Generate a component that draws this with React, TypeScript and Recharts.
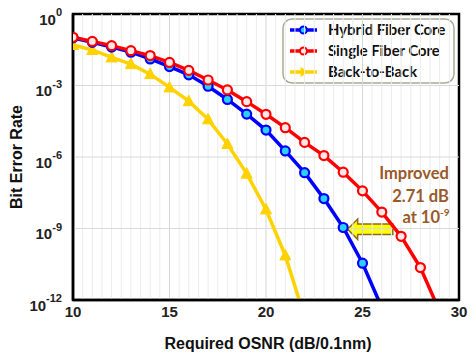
import React from "react";
import {
  LineChart,
  Line,
  XAxis,
  YAxis,
  ReferenceLine,
  ReferenceArea,
  ReferenceDot,
  Customized,
} from "recharts";

// ---------- data ----------
const osnr = [10, 11, 12, 13, 14, 15, 16, 17, 18, 19, 20, 21, 22, 23, 24, 25, 26, 27, 28, 29];
const hybridBER = [1.0e-1, 6.5e-2, 4.1e-2, 2.5e-2, 1.3e-2, 6.2e-3, 2.8e-3, 9.3e-4, 2.6e-4, 6.3e-5, 1.35e-5, 1.8e-6, 2.2e-7, 1.8e-8, 1.1e-9, 3.5e-11, 4.8e-13];
const singleBER = [1.05e-1, 7.1e-2, 4.7e-2, 2.9e-2, 1.8e-2, 9.3e-3, 4.3e-3, 1.7e-3, 6.5e-4, 2.1e-4, 6.2e-5, 1.7e-5, 4.1e-6, 1.15e-6, 2.3e-7, 3.8e-8, 4.9e-9, 4.7e-10, 2.3e-11, 3.3e-13];
const b2bBER = [5.0e-2, 3.1e-2, 1.5e-2, 7.9e-3, 3.0e-3, 8.3e-4, 2.2e-4, 3.8e-5, 3.5e-6, 2.0e-7, 6.3e-9, 7.4e-11, 1.9e-13];

const xTicks = [10, 15, 20, 25, 30];
const yTicks = [1, 1e-3, 1e-6, 1e-9, 1e-12];
const minorX = [10.5, 11, 11.5, 12, 12.5, 13, 13.5, 14, 14.5, 15.5, 16, 16.5, 17, 17.5, 18, 18.5, 19, 19.5, 20.5, 21, 21.5, 22, 22.5, 23, 23.5, 24, 24.5, 25.5, 26, 26.5, 27, 27.5, 28, 28.5, 29, 29.5];
const majorX = [15, 20, 25];
const majorY = [1e-3, 1e-6, 1e-9];

const seriesNames = ["Hybrid Fiber Core", "Single Fiber Core", "Back-to-Back"];
const annotationLines = ["Improved", "2.71 dB", "at 10"];

const toRows = (vals: number[]) => vals.map((v, i) => ({ x: osnr[i], y: v }));
const hybridData = toRows(hybridBER);
const singleData = toRows(singleBER);
const b2bData = toRows(b2bBER);

const BLUE = "#0000ff";
const RED = "#ff0000";
const YELLOW = "#ffd200";
const BROWN = "#985a2a";

const tickFont = "'Liberation Sans', Arial, sans-serif";
const calFont = "Lato, 'Open Sans', sans-serif";

const BlueDot = (p: any) =>
  p.cx == null ? null : (
    <circle key={p.index} cx={p.cx} cy={p.cy} r={4.5} stroke={BLUE} strokeWidth={2.2} fill="#2cd0ff" />
  );
const RedDot = (p: any) =>
  p.cx == null ? null : (
    <circle key={p.index} cx={p.cx} cy={p.cy} r={4.5} stroke={RED} strokeWidth={2.2} fill="#ffe8e8" />
  );
const YellowDot = (p: any) =>
  p.cx == null ? null : (
    <polygon
      key={p.index}
      points={`${p.cx},${p.cy - 6} ${p.cx + 5.5},${p.cy + 4.5} ${p.cx - 5.5},${p.cy + 4.5}`}
      fill={YELLOW}
      stroke={YELLOW}
      strokeWidth={1}
    />
  );

const YTick = (props: any) => {
  const { x, y, payload } = props;
  const e = Math.round(Math.log10(payload.value));
  return (
    <text x={x} y={y + 10.5} textAnchor="end" fontFamily={tickFont} fontWeight="bold" fontSize={15} fill="#222">
      <tspan>10</tspan>
      <tspan dy={-8.5} fontSize={11}>{e === 0 ? "0" : `-${Math.abs(e)}`}</tspan>
    </text>
  );
};

const XTick = (props: any) => {
  const { x, y, payload } = props;
  return (
    <text x={x} y={y + 15} textAnchor="middle" fontFamily={tickFont} fontWeight="bold" fontSize={15} fill="#222">
      {payload.value}
    </text>
  );
};

const ArrowShape = (p: any) => {
  const { x, y, width, height } = p;
  if (x == null) return null;
  const head = 10;
  const cy = y + height / 2;
  const bh = height * 0.26;
  const pts = [
    [x, cy],
    [x + head, y],
    [x + head, cy - bh],
    [x + width, cy - bh],
    [x + width, cy + bh],
    [x + head, cy + bh],
    [x + head, y + height],
  ]
    .map((q) => q.join(","))
    .join(" ");
  return <polygon points={pts} fill="#ffff00" stroke="#8a6a20" strokeWidth={1.5} strokeLinejoin="miter" />;
};

const AnnotationShape = (p: any) => {
  const { cx, cy } = p;
  if (cx == null) return null;
  return (
    <g fontFamily={calFont} fontWeight="bold" fontSize={16.5} fill={BROWN}>
      <text x={cx} y={cy - 50} textAnchor="end">{annotationLines[0]}</text>
      <text x={cx} y={cy - 27} textAnchor="end">{annotationLines[1]}</text>
      <text x={cx - 9} y={cy - 6} textAnchor="end">{annotationLines[2]}</text>
      <text x={cx - 9} y={cy - 13} textAnchor="start" fontSize={10}>-9</text>
    </g>
  );
};

const legendColors = [BLUE, RED, YELLOW];

const LegendBox = () => {
  const bx = 283;
  const by = 19;
  return (
    <g>
      <rect x={bx} y={by} width={171} height={64} rx={9} ry={9} fill="#fff" stroke="#a8ac94" strokeWidth={1.5} />
      {seriesNames.map((n, i) => {
        const cy = 30 + i * 21;
        const mx = 303.5;
        return (
          <g key={n}>
            <line x1={290} y1={cy} x2={317} y2={cy} stroke={legendColors[i]} strokeWidth={3.5} />
            {i === 0 && <circle cx={mx} cy={cy} r={3.5} stroke={BLUE} strokeWidth={2} fill="#2cd0ff" />}
            {i === 1 && <circle cx={mx} cy={cy} r={3.5} stroke={RED} strokeWidth={2} fill="#ffe8e8" />}
            {i === 2 && <polygon points={`${mx + 5},${cy} ${mx - 3},${cy - 5} ${mx - 3},${cy + 5}`} fill={YELLOW} />}
            <text x={328} y={cy + 5} fontFamily={calFont} fontWeight="bold" fontSize={14.8} fill="#111">
              {n}
            </text>
          </g>
        );
      })}
    </g>
  );
};

const Titles = () => (
  <g fontFamily={tickFont} fontWeight="bold" fill="#111">
    <text x={268} y={349} textAnchor="middle" fontSize={16}>
      Required OSNR (dB/0.1nm)
    </text>
    <text x={22} y={157} textAnchor="middle" fontSize={16} transform="rotate(-90 22 157)">
      Bit Error Rate
    </text>
  </g>
);

const Frame = () => <rect x={73} y={14} width={386} height={286} fill="none" stroke="#000" strokeWidth={2.5} />;

export default function App() {
  return (
    <div style={{ position: "fixed", left: 0, top: 0, background: "#fff" }}>
      <LineChart width={474} height={357} margin={{ top: 14, right: 15, left: 0, bottom: 0 }}>
        <XAxis
          dataKey="x"
          type="number"
          domain={[10, 30]}
          ticks={xTicks}
          allowDataOverflow
          height={57}
          tickLine={false}
          axisLine={{ stroke: "#000", strokeWidth: 2.5 }}
          tick={<XTick />}
          tickSize={0}
        />
        <YAxis
          type="number"
          scale="log"
          domain={[1e-12, 1]}
          ticks={yTicks}
          allowDataOverflow
          width={73}
          tickLine={false}
          axisLine={{ stroke: "#000", strokeWidth: 2.5 }}
          tick={<YTick />}
          tickSize={8}
          tickMargin={3}
        />
        {minorX.map((v) => (
          <ReferenceLine key={"m" + v} x={v} stroke="#ececec" strokeWidth={1} />
        ))}
        {majorX.map((v) => (
          <ReferenceLine key={"M" + v} x={v} stroke="#d6d6d6" strokeWidth={1} />
        ))}
        {majorY.map((v) => (
          <ReferenceLine key={"Y" + v} y={v} stroke="#dadada" strokeWidth={1} />
        ))}
        <Line
          data={b2bData}
          dataKey="y"
          name={seriesNames[2]}
          stroke={YELLOW}
          strokeWidth={3.5}
          dot={<YellowDot />}
          isAnimationActive={false}
        />
        <Line
          data={hybridData}
          dataKey="y"
          name={seriesNames[0]}
          stroke={BLUE}
          strokeWidth={3.5}
          dot={<BlueDot />}
          isAnimationActive={false}
        />
        <Line
          data={singleData}
          dataKey="y"
          name={seriesNames[1]}
          stroke={RED}
          strokeWidth={3.5}
          dot={<RedDot />}
          isAnimationActive={false}
        />
        <ReferenceArea x1={24.23} x2={26.57} y1={3.5e-10} y2={2.5e-9} shape={<ArrowShape />} ifOverflow="visible" />
        <ReferenceDot x={29.48} y={1e-9} r={0} shape={<AnnotationShape />} ifOverflow="visible" />
        <Customized component={<Frame />} />
        <Customized component={<Titles />} />
        <Customized component={<LegendBox />} />
      </LineChart>
    </div>
  );
}
